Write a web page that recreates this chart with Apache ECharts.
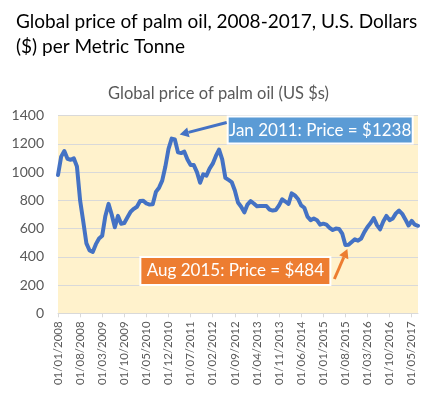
<!DOCTYPE html>
<html><head><meta charset="utf-8">
<script src="https://cdn.jsdelivr.net/npm/echarts@6/dist/echarts.min.js"></script>
<style>html,body{margin:0;padding:0;background:#fff}#c{width:437px;height:398px}</style>
</head><body><div id="c"></div>
<script>
var startYear = 2008, startMonth = 1, monthCount = 115;
var prices = [
 980,1110,1150,1095,1088,1098,1040,800,650,495,445,435,
 490,530,550,690,775,700,610,690,635,640,680,720,
 740,755,795,798,778,770,772,860,890,940,1040,1165,
 1238,1232,1140,1135,1145,1090,1050,1050,1000,925,985,975,
 1025,1060,1115,1160,1090,960,945,930,870,785,755,715,
 770,795,778,758,760,760,760,735,728,732,765,808,
 792,775,850,835,810,765,748,685,660,672,660,628,
 635,628,605,590,600,598,565,484,486,505,524,515,
 530,575,612,640,675,625,595,650,690,660,672,708,
 728,705,665,622,655,628,620
];
var yTicks = [0,200,400,600,800,1000,1200,1400];
var titleText = 'Global price of palm oil, 2008-2017, U.S. Dollars\n($) per Metric Tonne';
var subTitle = 'Global price of palm oil (US $s)';
var notes = [
  {index: 36, text: 'Jan 2011: Price = $1238', fill: '#5B9BD5', arrow: '#4472C4'},
  {index: 91, text: 'Aug 2015: Price = $484', fill: '#ED7D31', arrow: '#ED7D31'}
];

var categories = [];
for (var i = 0; i < monthCount; i++) {
  var mm = (startMonth - 1 + i) % 12 + 1;
  var yy = startYear + Math.floor((startMonth - 1 + i) / 12);
  categories.push('01/' + (mm < 10 ? '0' + mm : mm) + '/' + yy);
}

var FONT = 'Lato';
var chart = echarts.init(document.getElementById('c'), null, {renderer: 'canvas'});
chart.setOption({
  animation: false,
  backgroundColor: '#fff',
  title: [
    {text: titleText, left: 11, top: 4,
     textStyle: {fontFamily: FONT, fontSize: 19, fontWeight: 'normal', color: '#000', lineHeight: 25}},
    {text: subTitle, left: 'center', top: 80,
     textStyle: {fontFamily: FONT, fontSize: 16.5, fontWeight: 'normal', color: '#595959'}}
  ],
  grid: {left: 58, right: 19, top: 115.7, bottom: 84.7, show: true, backgroundColor: '#FFF2CC', borderWidth: 0},
  xAxis: {
    type: 'category', data: categories, boundaryGap: false,
    axisLine: {lineStyle: {color: '#D9D9D9', width: 1}},
    axisTick: {show: true, interval: 6, length: 4, lineStyle: {color: '#D9D9D9'}},
    axisLabel: {interval: 6, rotate: 90, margin: 8, color: '#595959', fontFamily: FONT, fontSize: 11.5},
    splitLine: {show: false}
  },
  yAxis: {
    type: 'value', min: yTicks[0], max: yTicks[yTicks.length - 1], interval: 200,
    axisLine: {show: false}, axisTick: {show: false},
    axisLabel: {color: '#595959', fontFamily: FONT, fontSize: 14, margin: 14,
      formatter: function (v) { return String(v); }},
    splitLine: {lineStyle: {color: '#D9D9D9', width: 1}}
  },
  series: [{
    type: 'line', data: prices, showSymbol: false, smooth: false,
    lineStyle: {color: '#4472C4', width: 4, join: 'round', cap: 'round'}
  }]
});

function arrow(x1, y1, x2, y2, color, w, hl, hw) {
  var dx = x2 - x1, dy = y2 - y1, L = Math.sqrt(dx*dx + dy*dy);
  var ux = dx / L, uy = dy / L;
  var bx = x2 - ux * hl, by = y2 - uy * hl;
  return [
    {type: 'line', shape: {x1: x1, y1: y1, x2: bx, y2: by}, style: {stroke: color, lineWidth: w}, z: 100},
    {type: 'polygon', shape: {points: [[x2, y2], [bx - uy * hw, by + ux * hw], [bx + uy * hw, by - ux * hw]]},
     style: {fill: color}, z: 100}
  ];
}

var els = [];
(function () {
  var n = notes[0];
  var p = chart.convertToPixel({seriesIndex: 0}, [n.index, prices[n.index]]);
  var bx = p[0] + 56, by = p[1] - 22, bw = 185, bh = 27;
  els.push({type: 'rect', shape: {x: bx, y: by, width: bw, height: bh},
    style: {fill: n.fill, stroke: '#fff', lineWidth: 2}, z: 100});
  els.push({type: 'text', x: bx + bw / 2, y: by + bh / 2, z: 101,
    style: {text: n.text, fill: '#fff', font: '17px ' + FONT, align: 'center', verticalAlign: 'middle'}});
  els = els.concat(arrow(bx - 1, by + 6, p[0] + 8, p[1] - 4, n.arrow, 3, 9, 5));
})();
(function () {
  var n = notes[1];
  var p = chart.convertToPixel({seriesIndex: 0}, [n.index, prices[n.index]]);
  var bx = p[0] - 205, by = p[1] + 12, bw = 190, bh = 28;
  els.push({type: 'rect', shape: {x: bx, y: by, width: bw, height: bh},
    style: {fill: n.fill, stroke: '#fff', lineWidth: 2}, z: 100});
  els.push({type: 'text', x: bx + bw / 2, y: by + bh / 2, z: 101,
    style: {text: n.text, fill: '#fff', font: '17px ' + FONT, align: 'center', verticalAlign: 'middle'}});
  els = els.concat(arrow(bx + bw + 4, by + 22, p[0] + 2, p[1] + 4, n.arrow, 3, 9, 5));
})();
chart.setOption({graphic: els});
</script>
</body></html>
